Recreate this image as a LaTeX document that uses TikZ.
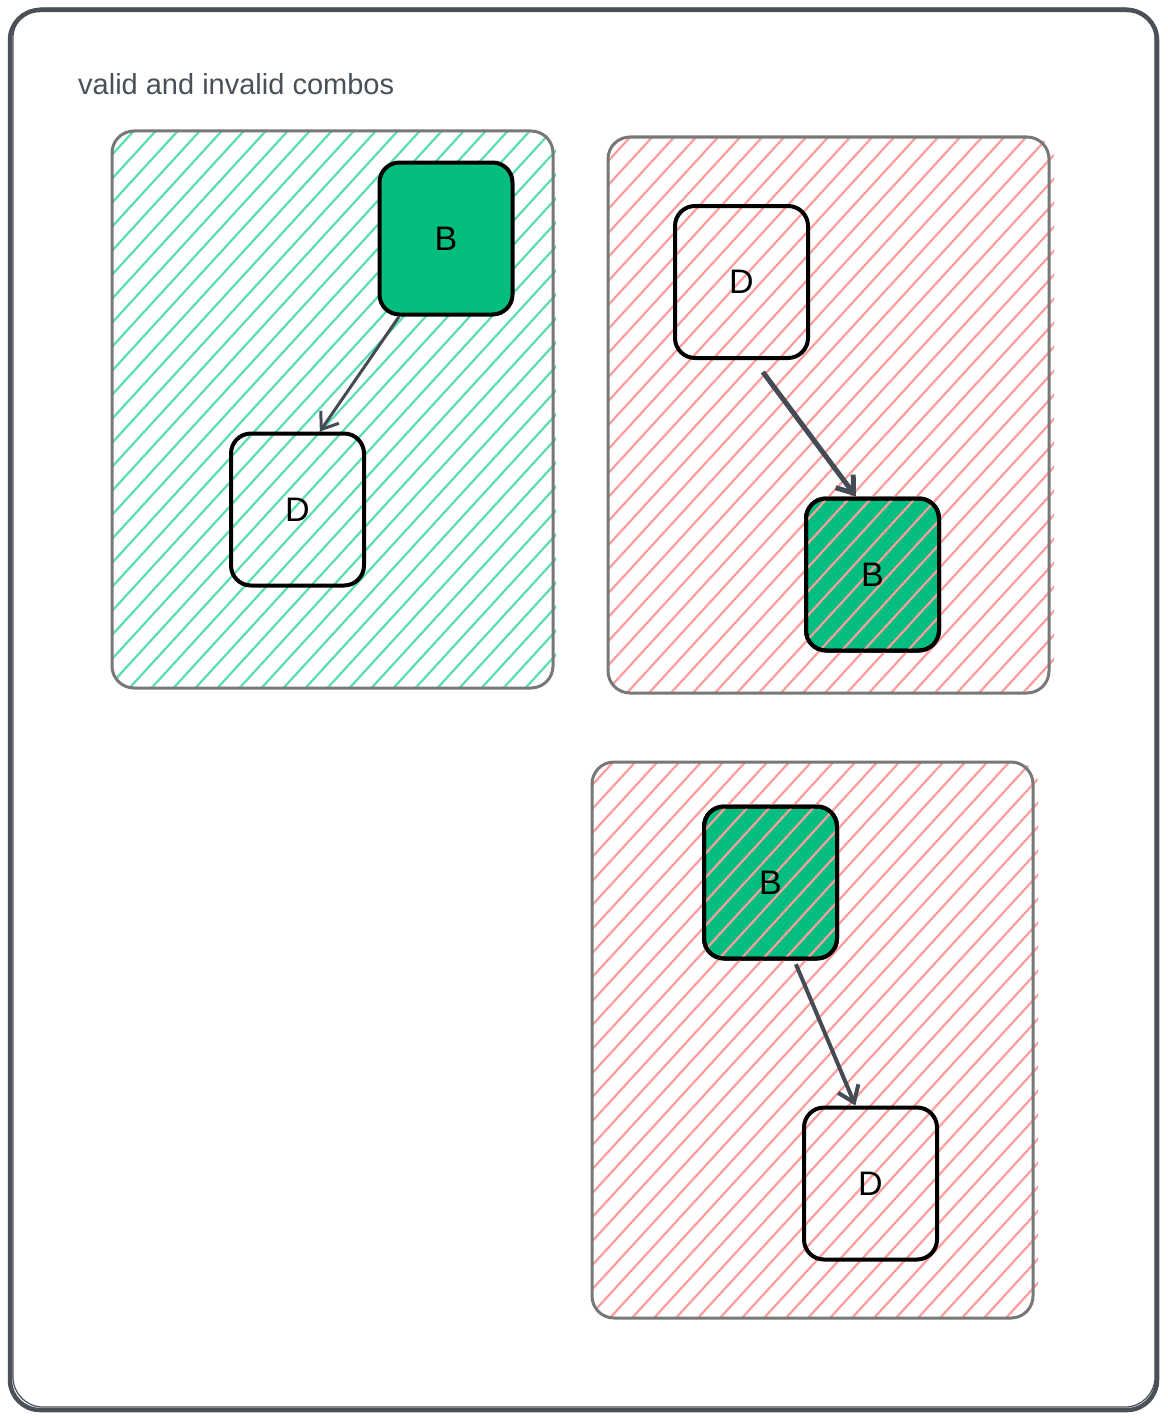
\documentclass[tikz,border=0pt]{standalone}
\usepackage{fontspec}
\setmainfont{Liberation Sans}
\usetikzlibrary{arrows.meta,calc}
\definecolor{frame}{HTML}{495057}
\definecolor{panelgray}{HTML}{787878}
\definecolor{hgreen}{HTML}{5ADDB6}
\definecolor{hred}{HTML}{FF9C9C}
\definecolor{bfill}{RGB}{3,190,128}
\definecolor{arrowc}{HTML}{454B54}
\tikzset{
  panel/.style={draw=panelgray, line width=3pt, rounded corners=22pt},
  boxnode/.style={draw=black, line width=4pt, rounded corners=20pt, minimum width=133pt, minimum height=152pt, inner sep=0pt, font=\fontsize{34}{34}\selectfont},
  bbox/.style={boxnode, fill=bfill},
  dbox/.style={boxnode},
  link/.style={draw=arrowc, -{Straight Barb[length=15pt,width=22pt]}},
  hatchline/.style={line width=2.2pt}
}
\newcommand{\hatchpanel}[6]{% x1 y1 x2 y2 color start
  \begin{scope}
    \clip[rounded corners=22pt] (#1,#2) rectangle (#3,#4);
    \pgfmathtruncatemacro{\cend}{#3+0.9167*#4+22}
    \pgfmathtruncatemacro{\cnext}{#6+22}
    \foreach \c in {#6,\cnext,...,\cend}{
      \draw[#5, hatchline] (\c-0.9167*#4-9,#4+10) -- (\c-0.9167*#2+9,#2-10);
    }
  \end{scope}
}
\begin{document}
\begin{tikzpicture}[x=1pt,y=-1pt]
\useasboundingbox (0,0) rectangle (1167,1418);
% outer frame
\draw[frame, line width=4.5pt, rounded corners=30pt] (10,10) rectangle (1157,1410);
\draw[frame, line width=1.2pt, rounded corners=30pt] (13,8) rectangle (1155,1407);
% title
\node[anchor=base west, inner sep=0pt, text=frame, font=\fontsize{29}{29}\selectfont] (title) at (78,95) {valid and invalid combos};

% ---- panel 1 (valid, green)
\hatchpanel{112}{131}{556}{688}{hgreen}{232}
\draw[panel] (112,131) rectangle (553,688);
\node[bbox] (B1) at (446,238.5) {B};
\node[dbox] (D1) at (297.5,509.5) {D};
\draw[link, line width=3pt] (B1.239) -- (D1.74);

% ---- panel 2 (invalid, red)
\node[bbox] (B2) at (872.5,574.5) {};
\hatchpanel{608}{137}{1054}{693}{hred}{734}
\draw[panel] (608,137) rectangle (1049,693);
\node[dbox] (D2) at (741.5,282) {D};
\node[boxnode] (B2t) at (B2) {B};
\draw[link, line width=5pt, shorten <=15pt] (D2.-81) -- (B2.102);

% ---- panel 3 (invalid, red)
\node[bbox] (B3) at (770.5,882.5) {};
\hatchpanel{592}{762}{1038}{1318}{hred}{1290}
\draw[panel] (592,762) rectangle (1033,1318);
\node[boxnode] (B3t) at (B3) {B};
\node[dbox] (D3) at (870.5,1183.5) {D};
\draw[link, line width=4pt, shorten <=4pt] (B3.-73) -- (D3.101);
\end{tikzpicture}
\end{document}
